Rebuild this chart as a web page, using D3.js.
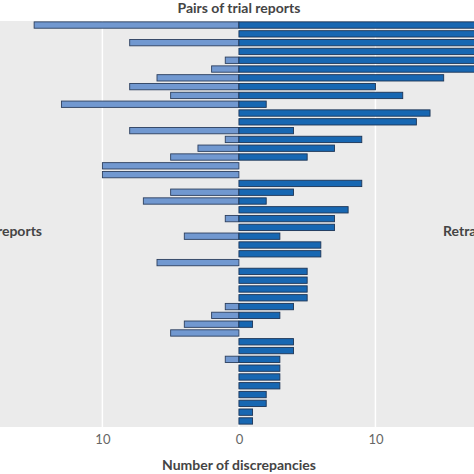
<!DOCTYPE html>
<html>
<head>
<meta charset="utf-8">
<script src="https://cdn.jsdelivr.net/npm/d3@7"></script>
<style>
  body { margin: 0; background: #fff; }
  svg { display: block; }
</style>
</head>
<body>
<svg id="chart" width="474" height="474"></svg>
<script>
// one row per pair of trial reports, top to bottom
const leftCounts = [15, 0, 8, 0, 1, 2, 6, 8, 5, 13, 0, 0, 8, 1, 3, 5, 10, 10, 0, 5, 7, 0, 1, 0, 4, 0, 0, 6, 0, 0, 0, 0, 1, 2, 4, 5, 0, 0, 1, 0, 0, 0, 0, 0, 0, 0];
const rightCounts = [20, 19, 19, 18, 18, 18, 15, 10, 12, 2, 14, 13, 4, 9, 7, 5, 0, 0, 9, 4, 2, 8, 7, 7, 3, 6, 6, 0, 5, 5, 5, 5, 4, 3, 1, 0, 4, 4, 3, 3, 3, 3, 2, 2, 1, 1];
const tickValues = [-10, 0, 10];

const rows = leftCounts.map((l, i) => ({ i, left: l, right: rightCounts[i] }));

const svg = d3.select('#chart');
const W = 474;
const panelTop = 21, panelBottom = 427;

const x = d3.scaleLinear().domain([-17.5, 17.22]).range([0, W]);
const y = d3.scaleBand().domain(rows.map(d => d.i)).range([21, 425]).paddingInner(0.28).paddingOuter(0.1);

svg.append('rect')
  .attr('x', 0).attr('y', panelTop)
  .attr('width', W).attr('height', panelBottom - panelTop)
  .attr('fill', '#ebebeb');

svg.append('g')
  .selectAll('line')
  .data(tickValues)
  .join('line')
  .attr('x1', d => x(d)).attr('x2', d => x(d))
  .attr('y1', panelTop).attr('y2', panelBottom)
  .attr('stroke', '#fff')
  .attr('stroke-width', 1.5);

svg.append('g')
  .selectAll('rect')
  .data(rows.filter(d => d.left > 0))
  .join('rect')
  .attr('x', d => x(-d.left))
  .attr('y', d => y(d.i))
  .attr('width', d => x(0) - x(-d.left))
  .attr('height', y.bandwidth())
  .attr('fill', '#7198d0')
  .attr('stroke', '#2c3f5e')
  .attr('stroke-width', 0.9);

svg.append('g')
  .selectAll('rect')
  .data(rows.filter(d => d.right > 0))
  .join('rect')
  .attr('x', x(0))
  .attr('y', d => y(d.i))
  .attr('width', d => x(d.right) - x(0))
  .attr('height', y.bandwidth())
  .attr('fill', '#1767b2')
  .attr('stroke', '#1d3556')
  .attr('stroke-width', 0.9);

const xAxis = d3.axisBottom(x)
  .tickValues(tickValues)
  .tickFormat(d => Math.abs(d))
  .tickSize(0)
  .tickPadding(8);

const ax = svg.append('g')
  .attr('transform', `translate(0,${panelBottom})`)
  .call(xAxis);
ax.select('.domain').remove();
ax.selectAll('text')
  .attr('font-family', 'Lato, sans-serif')
  .attr('font-size', 13)
  .attr('fill', '#666');

const bold = 'Lato, sans-serif';
svg.append('text')
  .attr('x', x(0)).attr('y', 13)
  .attr('text-anchor', 'middle')
  .attr('font-family', bold).attr('font-weight', 700).attr('font-size', 14)
  .attr('fill', '#444')
  .text('Pairs of trial reports');

svg.append('text')
  .attr('x', x(0)).attr('y', 470)
  .attr('text-anchor', 'middle')
  .attr('font-family', bold).attr('font-weight', 700).attr('font-size', 14)
  .attr('fill', '#444')
  .text('Number of discrepancies');

svg.append('text')
  .attr('x', 42).attr('y', 236)
  .attr('text-anchor', 'end')
  .attr('font-family', bold).attr('font-weight', 700).attr('font-size', 14)
  .attr('fill', '#444')
  .text('Original reports');

svg.append('text')
  .attr('x', 443).attr('y', 236)
  .attr('text-anchor', 'start')
  .attr('font-family', bold).attr('font-weight', 700).attr('font-size', 14)
  .attr('fill', '#444')
  .text('Retracted reports');
</script>
</body>
</html>
